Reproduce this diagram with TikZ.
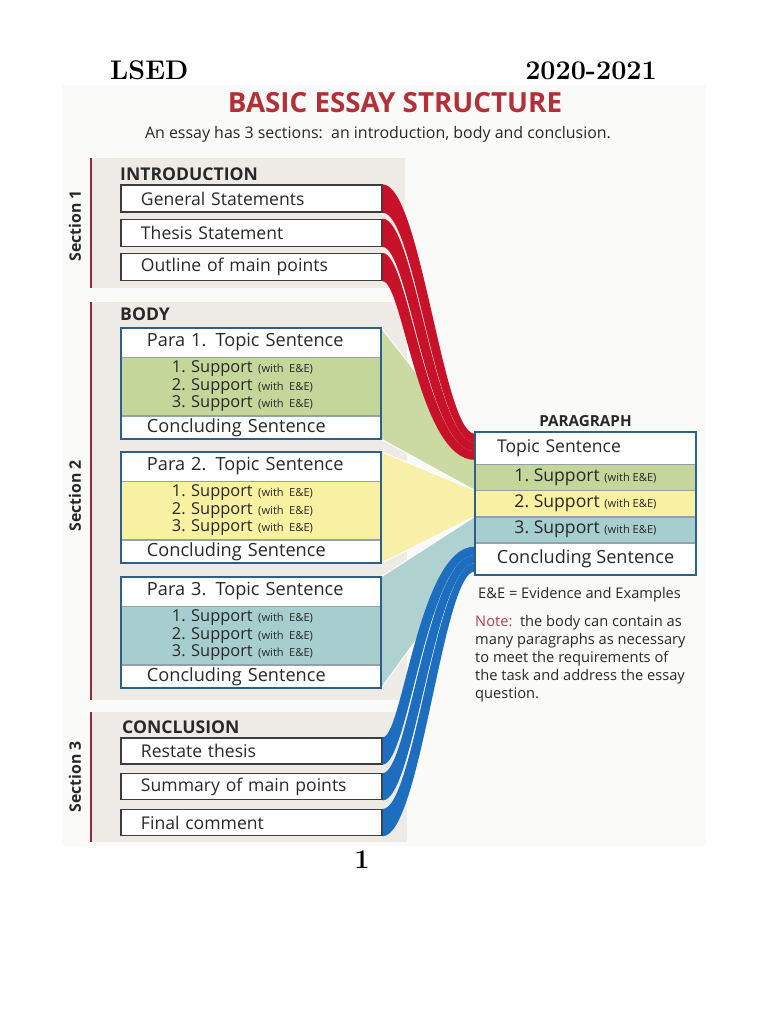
\documentclass[tikz,border=0pt]{standalone}
\usepackage{fontspec}
\setsansfont{Open Sans}
\usetikzlibrary{calc}
\usetikzlibrary{positioning}
\usetikzlibrary{chains}

\definecolor{titlered}{RGB}{180,48,56}
\definecolor{notered}{RGB}{176,64,72}
\definecolor{barred}{RGB}{150,42,58}
\definecolor{panelbeige}{RGB}{238,235,230}
\definecolor{posterbg}{RGB}{250,250,249}
\definecolor{inkgray}{RGB}{40,40,40}
\definecolor{boxgray}{RGB}{60,60,60}
\definecolor{parablue}{RGB}{45,95,135}
\definecolor{rowline}{RGB}{150,160,170}
\definecolor{essaygreen}{RGB}{197,214,155}
\definecolor{essayyellow}{RGB}{249,241,162}
\definecolor{essayteal}{RGB}{166,206,206}
\definecolor{fangreen}{RGB}{203,218,163}
\definecolor{fanyellow}{RGB}{248,240,168}
\definecolor{fanteal}{RGB}{175,210,208}
\definecolor{ribbonred}{RGB}{200,18,42}
\definecolor{ribbonblue}{RGB}{30,110,192}

\newcommand{\withee}{{\fontsize{9.5}{10}\selectfont(with E\&E)}}

\tikzset{
	sectionbar/.style={draw=barred, line width=2.5pt},
	sectionlabel/.style={rotate=90, text=inkgray, font=\sffamily\bfseries\fontsize{13.5}{16}\selectfont},
	heading/.style={anchor=base west, inner sep=0pt, text=inkgray, font=\sffamily\bfseries\fontsize{15}{18}\selectfont},
	listbox/.style={
		rectangle,
		draw=boxgray, line width=1.1pt,
		fill=white,
		text width=6.63cm,
		inner xsep=0.6cm, inner ysep=0pt,
		minimum height=0.81cm,
		align=left,
		text=inkgray,
		font=\sffamily\fontsize{15}{18}\selectfont,
		on chain},
	rowtext/.style={
		rectangle,
		draw=rowline, line width=0.4pt,
		inner ysep=0pt,
		align=left,
		text=inkgray,
		font=\sffamily\fontsize{15.5}{18}\selectfont,
		on chain},
	toprow/.style={rowtext, fill=white, text width=6.24cm, inner xsep=0.78cm, minimum height=0.87cm},
	supprow/.style={rowtext, text width=4.74cm, inner xsep=1.53cm, minimum height=1.74cm, font=\sffamily\fontsize{14}{14.9}\selectfont},
	endrow/.style={rowtext, fill=white, text width=6.24cm, inner xsep=0.78cm, minimum height=0.69cm},
	pararow/.style={rowtext, align=center, minimum width=6.63cm, minimum height=0.77cm, inner xsep=0pt, font=\sffamily\fontsize{15}{18}\selectfont},
	paraframe/.style={draw=parablue, line width=2pt},
	fan/.style={draw=white, line width=0.8pt},
	note/.style={anchor=north west, inner sep=0pt, align=left, text=inkgray, font=\sffamily\fontsize{12.5}{15.3}\selectfont},
}

\begin{document}
\begin{tikzpicture}[x=0.03cm, y=-0.03cm, font=\sffamily]
	\useasboundingbox (0,0) rectangle (768,1024);
	\fill[white] (0,0) rectangle (768,1024);
	\fill[posterbg] (62,85) rectangle (706,846);

	% page header
	\node[anchor=base west, inner sep=0pt, font=\rmfamily\bfseries\fontsize{23}{27}\selectfont] (lsed) at (110,79) {LSED};
	\node[anchor=base east, inner sep=0pt, font=\rmfamily\bfseries\fontsize{23}{27}\selectfont] (year) at (657,79) {2020-2021};
	\node[anchor=base, inner sep=0pt, text=titlered, font=\sffamily\bfseries\fontsize{23.7}{28}\selectfont] (title) at (395,112) {BASIC ESSAY STRUCTURE};
	\node[anchor=base, inner sep=0pt, text=inkgray, font=\sffamily\fontsize{13.6}{16}\selectfont] (subtitle) at (378,138) {An essay has 3 sections:\ \ an introduction, body and conclusion.};

	% section panels
	\fill[panelbeige] (91,158) rectangle (405,288);
	\fill[panelbeige] (91,302) rectangle (407,700);
	\fill[panelbeige] (91,712) rectangle (407,842);
	\draw[sectionbar] (91,158) -- (91,288);
	\draw[sectionbar] (91,302) -- (91,700);
	\draw[sectionbar] (91,712) -- (91,842);
	\node[sectionlabel] (sec1) at (75,226) {Section 1};
	\node[sectionlabel] (sec2) at (75,496) {Section 2};
	\node[sectionlabel] (sec3) at (75,777) {Section 3};

	% introduction
	\node[heading] (introhead) at (120,180) {INTRODUCTION};
	\begin{scope}[start chain=intro going below, node distance=0.18cm]
		\node[listbox] (gen) at (251.5,198.5) {General Statements};
		\node[listbox] (thesis) {Thesis Statement};
		\node[listbox] (outline) {Outline of main points};
	\end{scope}

	% body
	\node[heading] (bodyhead) at (120,320) {BODY};
	\begin{scope}[start chain=para1 going below, node distance=0cm]
		\node[toprow] (p1top) at (251,342.5) {Para 1. Topic Sentence};
		\node[supprow, fill=essaygreen] (p1sup) {1.~Support \withee\\2.~Support \withee\\3.~Support \withee};
		\node[endrow] (p1conc) {Concluding Sentence};
	\end{scope}
	\begin{scope}[start chain=para2 going below, node distance=0cm]
		\node[toprow] (p2top) at (251,466.5) {Para 2. Topic Sentence};
		\node[supprow, fill=essayyellow] (p2sup) {1.~Support \withee\\2.~Support \withee\\3.~Support \withee};
		\node[endrow] (p2conc) {Concluding Sentence};
	\end{scope}
	\begin{scope}[start chain=para3 going below, node distance=0cm]
		\node[toprow] (p3top) at (251,591.5) {Para 3. Topic Sentence};
		\node[supprow, fill=essayteal] (p3sup) {1.~Support \withee\\2.~Support \withee\\3.~Support \withee};
		\node[endrow] (p3conc) {Concluding Sentence};
	\end{scope}

	% conclusion
	\node[heading] (conchead) at (122,733) {CONCLUSION};
	\begin{scope}[start chain=concl going below, node distance=0.255cm]
		\node[listbox, minimum height=0.78cm] (restate) at (251.5,751) {Restate thesis};
		\node[listbox, minimum height=0.78cm] (summary) {Summary of main points};
		\node[listbox, minimum height=0.78cm] (final) {Final comment};
	\end{scope}

	% one paragraph
	\node[anchor=base, inner sep=0pt, text=inkgray, font=\sffamily\bfseries\fontsize{13}{15}\selectfont] (parahead) at (585.5,426) {PARAGRAPH};
	\begin{scope}[start chain=parabox going below, node distance=0cm]
		\node[pararow, fill=white, align=left, text width=5.31cm, inner xsep=0.66cm, minimum height=0.96cm] (ptopic) at (585.5,448) {Topic Sentence};
		\node[pararow, fill=essaygreen] (ps1) {1.~Support \withee};
		\node[pararow, fill=essayyellow] (ps2) {2.~Support \withee};
		\node[pararow, fill=essayteal] (ps3) {3.~Support \withee};
		\node[pararow, fill=white, minimum height=0.96cm, font=\sffamily\fontsize{15.5}{18}\selectfont] (pconc) {Concluding Sentence};
	\end{scope}
	\node[anchor=base west, inner sep=0pt, text=inkgray, font=\sffamily\fontsize{12.5}{15}\selectfont] (eande) at (478,598) {E\&E = Evidence and Examples};
	\node[note] (note) at (475,615) {\textcolor{notered}{Note:}\ \ the body can contain as\\many paragraphs as necessary\\to meet the requirements of\\the task and address the essay\\question.};

	% fans
	\path[fan, fill=fangreen] (p1top.north east) -- (ptopic.west) -- (ps1.south west) -- (p1conc.south east) -- cycle;
	\path[fan, fill=fanyellow] (p2top.north east) -- (ps2.north west) -- (ps2.south west) -- (p2conc.south east) -- cycle;
	\path[fan, fill=fanteal] (p3top.north east) -- (ps3.north west) -- (pconc.west) -- (p3conc.south east) -- cycle;

	% ribbons
	\path (ptopic.north west) ++(0,2) coordinate (r0) ++(0,8.7) coordinate (r1) ++(0,8.7) coordinate (r2) ++(0,8.7) coordinate (r3);
	\fill[ribbonred] (gen.north east) .. controls +(38,0) and +(-32,0) .. (r0) -- (r1) .. controls +(-40,0) and +(32,0) .. (gen.south east) -- cycle;
	\fill[ribbonred] (thesis.north east) .. controls +(32,0) and +(-40,0) .. (r1) -- (r2) .. controls +(-48,0) and +(26,0) .. (thesis.south east) -- cycle;
	\fill[ribbonred] (outline.north east) .. controls +(26,0) and +(-48,0) .. (r2) -- (r3) .. controls +(-56,0) and +(20,0) .. (outline.south east) -- cycle;

	\path (pconc.north west) ++(0,4) coordinate (b0) ++(0,8.3) coordinate (b1) ++(0,8.3) coordinate (b2) ++(0,8.3) coordinate (b3);
	\fill[ribbonblue] (restate.north east) .. controls +(20,0) and +(-56,0) .. (b0) -- (b1) .. controls +(-48,0) and +(26,0) .. (restate.south east) -- cycle;
	\fill[ribbonblue] (summary.north east) .. controls +(26,0) and +(-48,0) .. (b1) -- (b2) .. controls +(-40,0) and +(32,0) .. (summary.south east) -- cycle;
	\fill[ribbonblue] (final.north east) .. controls +(32,0) and +(-40,0) .. (b2) -- (b3) .. controls +(-32,0) and +(38,0) .. (final.south east) -- cycle;

	% frames
	\draw[paraframe] (p1top.north west) rectangle (p1conc.south east);
	\draw[paraframe] (p2top.north west) rectangle (p2conc.south east);
	\draw[paraframe] (p3top.north west) rectangle (p3conc.south east);
	\draw[paraframe] (ptopic.north west) rectangle (pconc.south east);

	\node[anchor=base, inner sep=0pt, font=\rmfamily\bfseries\fontsize{23}{27}\selectfont] (pagenum) at (362,868) {1};
\end{tikzpicture}
\end{document}
